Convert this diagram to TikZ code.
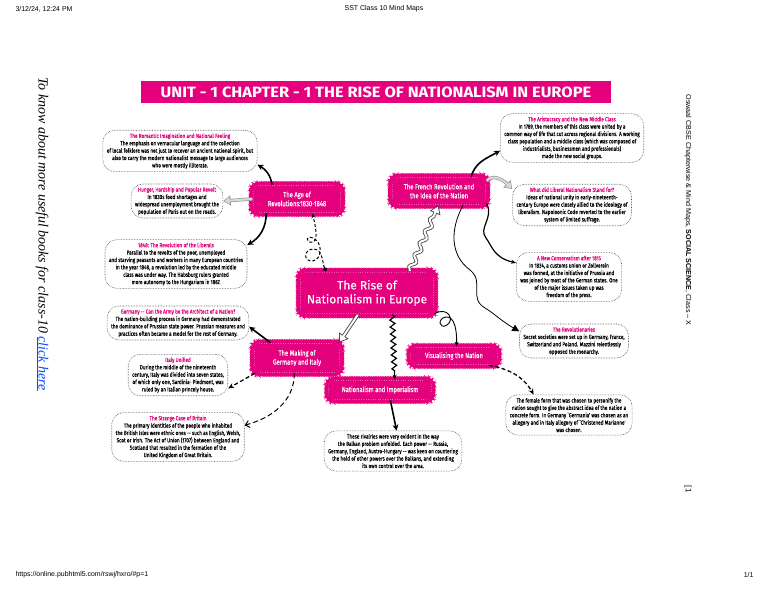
\documentclass[tikz,border=0pt]{standalone}
\usepackage{fontspec}
\setmainfont{Liberation Sans}
\newfontfamily\boxfont[FakeStretch=0.78,FakeBold=0.25]{Fira Sans}
\newfontfamily\bannerfont[FakeStretch=1.1]{Fira Sans}
\newfontfamily\hubfont[FakeBold=0.2]{Fira Sans}
\newfontfamily\sidefont{Liberation Serif}
\usepackage{xcolor}
\usetikzlibrary{positioning,arrows.meta,decorations.pathmorphing}
\definecolor{nmag}{RGB}{229,0,125}
\newcommand{\hd}[1]{\textcolor{nmag}{#1}\\}

\tikzset{
  infobox/.style={draw=black!70, densely dotted, line width=0.6pt, rounded corners=12pt,
    fill=white, align=center, inner xsep=4pt, inner ysep=3pt,
    font=\boxfont\fontsize{6}{7.4}\selectfont},
  blob/.style={fill=nmag, draw=nmag, line width=0.8pt, decorate,
    decoration={zigzag, amplitude=0.6pt, segment length=2.4pt},
    rounded corners=5pt, text=white, align=center, inner sep=2pt,
    font=\boxfont\fontsize{7.5}{9}\selectfont},
  hub/.style={blob, font=\hubfont\fontsize{12}{14}\selectfont},
  blkarrow/.style={-{Stealth[length=6pt,width=6pt]}, line width=1.6pt},
  thinarrow/.style={-{Stealth[length=5pt,width=4pt]}, line width=0.9pt},
  dasharrow/.style={-{Stealth[length=6pt,width=5pt]}, line width=1.3pt, dash pattern=on 4pt off 2.5pt},
  openarrow/.style={-{Straight Barb[length=4pt,width=7pt]}, line width=1pt, dash pattern=on 5pt off 3pt},
  hollowarrow/.style={white, line width=2pt, -{Triangle[length=6pt,width=8pt]}, shorten >=1.6pt,
    preaction={draw=black!75, line width=3.6pt, -{Triangle[length=8.5pt,width=11pt]}, shorten >=0pt}},
  greyarrow/.style={gray!30, line width=2pt, -{Triangle[length=5pt,width=7pt]}, shorten >=1.4pt,
    preaction={draw=gray!80, line width=3.4pt, -{Triangle[length=7.5pt,width=10pt]}, shorten >=0pt}},
}

\begin{document}
\begin{tikzpicture}[x=1bp,y=1bp]
\path[use as bounding box, fill=white] (0,0) rectangle (768,-594);

% page header and footer
\node (date) [anchor=west, font=\fontsize{7}{8}\selectfont] at (12,-9) {3/12/24, 12:24 PM};
\node (pagetitle) [font=\fontsize{7}{8}\selectfont] at (384,-9) {SST Class 10 Mind Maps};
\node (url) [anchor=west, font=\fontsize{7}{8}\selectfont] at (12,-575) {https://online.pubhtml5.com/rswj/hxro/\#p=1};
\node (pagecount) [anchor=east, font=\fontsize{7}{8}\selectfont] at (757,-575) {1/1};

% side notes
\node (booklink) [rotate=-90, font=\sidefont\itshape\fontsize{14}{15}\selectfont] at (42,-234)
  {To know about more useful books for class-10 \textcolor{blue!70!cyan}{\underline{click here}}};
\node (series) [rotate=-90, font=\fontsize{7.2}{8}\selectfont] at (688,-210)
  {Oswaal CBSE Chapterwise \& Mind Maps, \textbf{SOCIAL SCIENCE}, Class -- X};
\node (pageno) [rotate=-90, font=\fontsize{8}{9}\selectfont] at (688,-489) {[\,1};

% banner
\node (banner) [fill=nmag, minimum width=472, minimum height=23, text=white,
  font=\bannerfont\bfseries\fontsize{15}{16}\selectfont] at (376,-92)
  {UNIT - 1 CHAPTER - 1 THE RISE OF NATIONALISM IN EUROPE};

% hub and branches
\node (hub) [hub, minimum width=135, minimum height=43] at (367,-293) {The Rise of\\Nationalism in Europe};
\node (age) [blob, minimum width=89, minimum height=28] at (297,-199) {The Age of\\Revolutions:1830-1848};
\node (french) [blob, minimum width=95, minimum height=28] at (439,-191) {The French Revolution and\\the Idea of the Nation};
\node (making) [blob, minimum width=87, minimum height=30] at (297,-358) {The Making of\\Germany and Italy};
\node (natimp) [blob, minimum width=104, minimum height=20] at (380,-390) {Nationalism and Imperialism};
\node (visual) [blob, minimum width=88, minimum height=18] at (454,-356) {Visualising the Nation};

% left side boxes
\node (romantic) [infobox] at (180,-151) {\hd{The Romantic Imagination and National Feeling}The emphasis on vernacular language and the collection\\of local folklore was not just to recover an ancient national spirit, but\\also to carry the modern nationalist message to large audiences\\who were mostly illiterate.};
\node (hunger) [infobox] at (177,-201) {\hd{Hunger, Hardship and Popular Revolt}In 1830s food shortages and\\widespread unemployment brought the\\population of Paris out on the roads.};
\node (revo1848) [infobox] at (176,-264) {\hd{1848: The Revolution of the Liberals}Parallel to the revolts of the poor, unemployed\\and starving peasants and workers in many European countries\\in the year 1848, a revolution led by the educated middle\\class was under way. The Habsburg rulers granted\\more autonomy to the Hungarians in 1867.};
\node (germany) [infobox] at (178,-323) {\hd{Germany -- Can the Army be the Architect of a Nation?}The nation-building process in Germany had demonstrated\\the dominance of Prussian state power. Prussian measures and\\practices often became a model for the rest of Germany.};
\node (italy) [infobox] at (178,-375) {\hd{Italy Unified}During the middle of the nineteenth\\century, Italy was divided into seven states,\\of which only one, Sardinia- Piedmont, was\\ruled by an Italian princely house.};
\node (britain) [infobox] at (178,-437) {\hd{The Strange Case of Britain}The primary identities of the people who inhabited\\the British Isles were ethnic ones -- such as English, Welsh,\\Scot or Irish. The Act of Union (1707) between England and\\Scotland that resulted in the formation of the\\United Kingdom of Great Britain.};

% right side boxes
\node (aristocracy) [infobox] at (572,-138) {\hd{The Aristocracy and the New Middle Class}In 1789, the members of this class were united by a\\common way of life that cut across regional divisions. A working\\class population and a middle class (which was composed of\\industrialists, businessmen and professionals)\\made the new social groups.};
\node (libnat) [infobox] at (572,-205) {\hd{What did Liberal Nationalism Stand for?}Ideas of national unity in early-nineteenth-\\century Europe were closely allied to the ideology of\\liberalism. Napoleonic Code reverted to the earlier\\system of limited suffrage.};
\node (conservatism) [infobox] at (569,-277) {\hd{A New Conservatism after 1815}In 1834, a customs union or Zollverein\\was formed, at the initiative of Prussia and\\was joined by most of the German states. One\\of the major issues taken up was\\freedom of the press.};
\node (revol) [infobox] at (574,-341) {\hd{The Revolutionaries}Secret societies were set up in Germany, France,\\Switzerland and Poland. Mazzini relentlessly\\opposed the monarchy.};
\node (female) [infobox] at (569,-415) {The female form that was chosen to personify the\\nation sought to give the abstract idea of the nation a\\concrete form. In Germany `Germania' was chosen as an\\allegory and in Italy allegory of `Christened Marianne'\\was chosen.};
\node (balkan) [infobox] at (393,-451) {These rivalries were very evident in the way\\the Balkan problem unfolded. Each power -- Russia,\\Germany, England, Austro-Hungary -- was keen on countering\\the hold of other powers over the Balkans, and extending\\its own control over the area.};

% connectors
\draw[blkarrow] (age.150) to[out=100,in=-30] (romantic.-10);
\draw[greyarrow] (age.west) -- (hunger.east);
\draw[blkarrow] (age.-155) to[out=-90,in=30] (revo1848.15);
\draw[{Circle[length=4pt]}-{Stealth[length=5pt,width=4pt]}, line width=1pt, dash pattern=on 3pt off 2pt]
  (hub.152) .. controls (322,-262) and (323,-250) .. (314,-249)
  .. controls (303,-249) and (303,-262) .. (313,-261)
  .. controls (322,-259) and (322,-245) .. (316,-240)
  .. controls (306,-232) and (304,-244) .. (313,-242)
  .. controls (318,-240) and (316,-228) .. (age.-43);
\draw[hollowarrow, decorate, decoration={snake, amplitude=2.5pt, segment length=13pt, post length=9pt}]
  (hub.27) -- (french.-92);
\draw[blkarrow] (french.24) to[out=75,in=-150] (aristocracy.190);
\draw[greyarrow] (french.12) to[out=50,in=135] (libnat.165);
\draw[thinarrow, line width=1.2pt] (french.-15) .. controls (494,-218) and (478,-228) .. (486,-238)
  .. controls (492,-246) and (494,-258) .. (conservatism.165);
\draw[-{Triangle[length=7pt,width=7pt]}, line width=0.8pt] (french.-31) .. controls (450,-230) and (450,-255) .. (470,-270)
  .. controls (485,-282) and (468,-298) .. (485,-308) .. controls (495,-314) and (500,-320) .. (revol.170);
\draw[thinarrow] (hub.-17) .. controls (448,-306) and (455,-320) .. (447,-325)
  .. controls (439,-330) and (437,-318) .. (446,-317) .. controls (455,-316) and (457,-332) .. (visual.75);
\draw[thinarrow, line width=1.2pt, decorate, decoration={zigzag, amplitude=2.5pt, segment length=7pt, post length=6pt}]
  (hub.-41) -- (natimp.35);
\draw[hollowarrow] (hub.-113) -- (making.20);
\draw[blkarrow] (making.150) -- (germany.-3);
\draw[dasharrow] (making.200) -- (italy.-15);
\draw[openarrow] (making.-100) to[out=-90,in=15] (britain.10);
\draw[blkarrow] (natimp.-45) -- (balkan.80);
\draw[dasharrow] (visual.-15) to[out=-10,in=120] (female.150);
\end{tikzpicture}
\end{document}
